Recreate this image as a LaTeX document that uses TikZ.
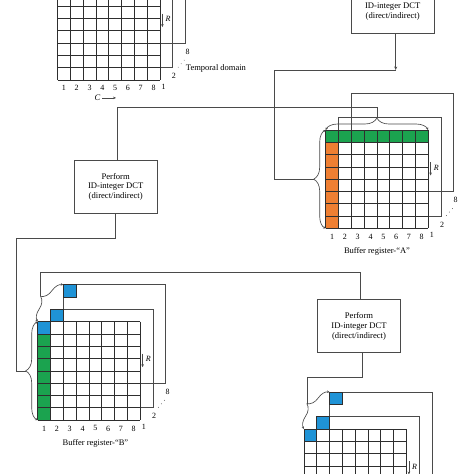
\documentclass[tikz,border=0pt]{standalone}
\usepackage{fontspec}
\setmainfont{Liberation Serif}
\usetikzlibrary{arrows.meta,decorations.pathreplacing,calc}
\definecolor{cgreen}{HTML}{1BA34F}
\definecolor{corange}{HTML}{EF7F32}
\definecolor{cblue}{HTML}{1F93D6}
\definecolor{cline}{HTML}{2E2E2E}
\definecolor{clayer}{HTML}{4A4A4A}
\newcommand{\buildgrid}[3]{%
  \begin{scope}[shift={(#1,#2)}]
    \draw[layer] (12.8,-12.3) rectangle ++(102.4,98.4);
    \draw[layer] (25.6,-36.9) rectangle ++(102.4,98.4);
    #3
    \foreach \k in {0,...,8} {
      \draw[gridline] (\k*12.8,0) -- (\k*12.8,98.4);
      \draw[gridline] (0,\k*12.3) -- (102.4,\k*12.3);
    }
  \end{scope}}
\newcommand{\gridlabels}[3]{%
  \begin{scope}[shift={(#1,#2)}]
    \foreach \k in {1,...,8}
      \node[numlab] (#3c\k) at ({(\k-0.5)*12.8}, 106.7) {\k};
    \node[numlab] (#3l1) at (106.2,104.9) {1};
    \node[numlab] (#3l2) at (116.4,94.4) {2};
    \node[numlab] (#3l8) at (130,69.8) {8};
    \fill[clayer] (120.7,85.6) circle (0.45) (123.7,82.1) circle (0.45) (126.7,78.6) circle (0.45);
  \end{scope}}
\newcommand{\rarrow}[3]{%
  \begin{scope}[shift={(#1,#2)}]
    \coordinate (#3r0) at (104.9,32);
    \coordinate (#3r1) at (104.9,45.5);
    \draw[conn,-{Stealth[length=3pt,width=2.6pt]}] (#3r0) -- (#3r1);
    \node[numlab,font=\fontsize{8}{9}\selectfont\itshape] (#3R) at (110.6,37.5) {R};
  \end{scope}}
\begin{document}
\begin{tikzpicture}[x=1pt,y=-1pt,
  gridline/.style={draw=cline,line width=0.75pt},
  layer/.style={draw=clayer,line width=0.65pt},
  conn/.style={draw=clayer,line width=0.65pt},
  procbox/.style={draw=clayer,line width=0.65pt,minimum width=83pt,minimum height=53pt,
    align=center,font=\fontsize{8.6}{9.6}\selectfont,inner sep=0pt},
  numlab/.style={font=\fontsize{8}{9}\selectfont,inner sep=0pt},
  bracestyle/.style={draw=clayer,line width=0.65pt,decorate,
    decoration={brace,amplitude=12pt},
    {Stealth[length=2.6pt,width=2.4pt]}-{Stealth[length=2.6pt,width=2.4pt]}},
  celltext/.style={font=\fontsize{8.5}{10}\selectfont,inner sep=0pt}]
\useasboundingbox (0,0) rectangle (474,474);
\clip (0,0) rectangle (474,474);

% ---- temporal domain grid
\buildgrid{57.5}{-18.4}{}
\gridlabels{57.5}{-18.4}{T}
\rarrow{57.5}{-18.4}{T}
\node[celltext,anchor=west] (tempdom) at (185.7,68.3) {Temporal domain};
\node[celltext] (clab) at (97.5,97.9) {\textit{C}};
\coordinate (carrowend) at (116,97.9);
\draw[conn,-{Stealth[length=3pt,width=2.6pt]}] (clab.east) ++(1.5,0) -- (carrowend);

% ---- buffer A
\buildgrid{325.7}{130}{%
  \fill[cgreen] (0,0) rectangle (102.4,12.3);
  \fill[corange] (0,12.3) rectangle (12.8,98.4);}
\gridlabels{325.7}{130}{A}
\rarrow{325.7}{130}{A}
\node[celltext] (bufA) at (377,251.7) {Buffer register-“A”};
\draw[bracestyle] (325.7,130) -- (428.1,130);
\draw[bracestyle] (325.7,228.4) -- (325.7,130);
\coordinate (tAT) at (376.9,118);
\coordinate (tAL) at (313.7,179.2);

% ---- buffer B
\buildgrid{37.7}{321.7}{%
  \fill[cgreen] (0,12.3) rectangle (12.8,98.4);
  \fill[cblue] (0,0) rectangle (12.8,12.3);
  \filldraw[fill=cblue,draw=cline,line width=0.75pt] (12.8,-12.3) rectangle ++(12.8,12.3);
  \filldraw[fill=cblue,draw=cline,line width=0.75pt] (25.6,-36.9) rectangle ++(12.8,12.3);}
\gridlabels{37.7}{321.7}{B}
\rarrow{37.7}{321.7}{B}
\node[celltext] (bufB) at (95.5,443.3) {Buffer register-“B”};
\draw[bracestyle] (37.7,420.1) -- (37.7,321.7);
\draw[bracestyle] (37.7,321.7) -- (63.3,284.8);
\coordinate (tBL) at (25.7,370.9);
\coordinate (tBD) at (40.6,296.4);

% ---- buffer C
\buildgrid{304}{429}{%
  \filldraw[fill=cblue,draw=cline,line width=0.75pt] (0,0) rectangle ++(12.8,12.3);
  \filldraw[fill=cblue,draw=cline,line width=0.75pt] (12.8,-12.3) rectangle ++(12.8,12.3);
  \filldraw[fill=cblue,draw=cline,line width=0.75pt] (25.6,-36.9) rectangle ++(12.8,12.3);}
\rarrow{304}{429}{C}
\draw[bracestyle] (304,429) -- (329.6,392.1);
\coordinate (tCD) at (306.9,403.7);

% ---- process boxes
\node[procbox,minimum height=47pt] (dct0) at (392.7,9.8) {\mbox{}\\ID-integer DCT\\(direct/indirect)};
\node[procbox] (dct1) at (115.7,186.7) {Perform\\ID-integer DCT\\(direct/indirect)};
\node[procbox] (dct2) at (359,326.3) {Perform\\ID-integer DCT\\(direct/indirect)};

% ---- connectors
\coordinate (jA) at (395.7,70);
\draw[conn,-{Stealth[length=3.5pt,width=3pt]}] ([xshift=3pt]dct0.south) -- (jA);
\draw[conn] (jA) -- (274,70) |- (tAL);
\draw[conn] (tAT) -- ++(0,-10.7) -| ([xshift=2pt]dct1.north);
\draw[conn] (dct1.south) -- ++(0,24.4) -| ($(tBL)+(-9,0)$) -- (tBL);
\draw[conn] (tBD) -- ++(0,-24.1) -| ([xshift=1pt]dct2.north);
\draw[conn] ([xshift=3pt]dct2.south) -- ++(0,24.6) -| (tCD);
\end{tikzpicture}
\end{document}
